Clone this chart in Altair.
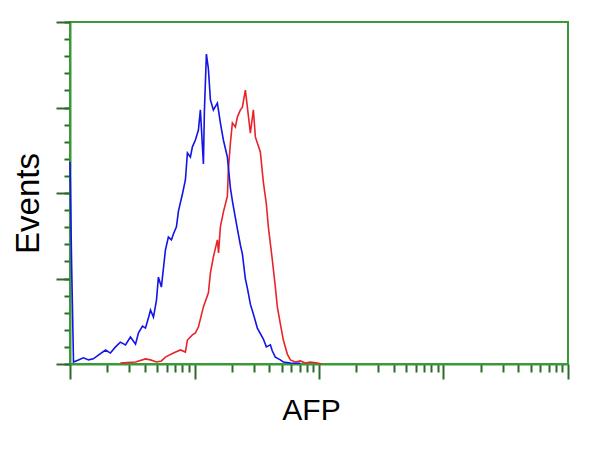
import altair as alt
import pandas as pd

# Fluorescence intensity (log axis) and event counts (% of max)
blue_x = [1.00, 1.03, 1.067, 1.17, 1.28, 1.41, 1.54, 1.69, 1.93, 2.11, 2.32, 2.54, 2.79, 3.06,
          3.36, 3.55, 3.82, 4.04, 4.27, 4.43, 4.68, 4.95, 5.13, 5.42, 5.84, 6.17, 6.53, 6.77,
          7.16, 7.43, 8.00, 8.45, 8.77, 9.27, 9.62, 10.17, 10.75, 11.15, 11.79, 12.01, 12.46,
          12.93, 13.42, 14.18, 15.27, 16.14, 17.06, 18.37, 19.42, 20.15, 21.30, 22.10, 23.36,
          24.24, 25.62, 26.59, 28.10, 29.70, 31.97, 35.73, 37.76, 40.67, 42.20, 44.60, 48.92,
          51.71, 58.85, 70.78]
blue_y = [59.1, 29.5, 0.6, 1.2, 1.8, 1.2, 1.5, 2.6, 4.1, 3.2, 5.0, 6.4, 5.6, 7.9,
          5.8, 9.1, 11.1, 10.5, 13.5, 15.8, 13.7, 18.7, 25.4, 22.5, 33.3, 37.1, 36.3, 38.0,
          40.1, 44.7, 49.7, 53.8, 61.7, 60.5, 63.5, 65.5, 68.4, 74.3, 58.5, 74.0, 90.6,
          86.3, 77.2, 74.3, 76.3, 70.5, 65.5, 60.5, 51.5, 47.7, 42.7, 39.5, 34.8,
          32.2, 24.9, 22.2, 17.5, 14.6, 10.5, 7.3, 5.0, 5.6, 3.8, 2.0, 1.2,
          0.6, 0.3, 0.2]

red_x = [2.54, 3.36, 4.04, 4.43, 4.95, 5.42, 5.84, 6.77, 7.71, 8.45, 8.77, 9.62, 10.17, 10.75,
         11.79, 12.93, 13.42, 14.18, 15.27, 15.60, 16.14, 17.06, 18.37, 18.70, 19.42, 20.15,
         21.30, 22.10, 23.36, 24.24, 25.62, 26.59, 28.10, 29.70, 30.82, 31.97, 33.80, 35.73,
         37.76, 39.19, 42.20, 44.60, 46.28, 48.92, 51.71, 55.67, 58.85, 64.54, 70.78, 77.62,
         85.16, 96.9, 105.0]
red_y = [0.3, 0.6, 1.5, 1.2, 0.6, 0.9, 2.0, 3.2, 4.1, 3.5, 7.0, 8.5, 9.1, 10.8,
         16.7, 20.8, 26.6, 31.3, 36.3, 32.5, 40.1, 44.4, 49.1, 56.7, 64.6, 70.5,
         69.3, 72.2, 74.3, 75.1, 80.1, 75.1, 67.5, 74.3, 66.4, 64.6, 62.0, 53.2,
         46.8, 40.1, 30.4, 22.5, 16.7, 11.7, 7.0, 2.9, 1.2, 0.6, 0.9, 0.3,
         0.6, 0.3, 0.0]

major_x = [1, 10, 100, 1000, 10000]
minor_x = [2, 3, 4, 5, 6, 7, 8, 9,
           20, 30, 40, 50, 60, 70, 80, 90,
           200, 300, 400, 500, 600, 700, 800, 900,
           2000, 3000, 4000, 5000, 6000, 7000, 8000, 9000]
major_y = [0, 25, 50, 75, 100]
minor_y = [0, 5, 10, 15, 20, 25, 30, 35, 40, 45, 50, 55, 60, 65, 70, 75, 80, 85, 90, 95, 100]

series_names = ["AFP", "Control"]
series_colors = ["#e8242a", "#1414e6"]

df = pd.concat([
    pd.DataFrame({"x": red_x, "y": red_y, "series": series_names[0]}),
    pd.DataFrame({"x": blue_x, "y": blue_y, "series": series_names[1]}),
], ignore_index=True)

GREEN = "#3a9a3a"
TICK = "#2a6a2a"
FONT = "Liberation Sans"

x_scale = alt.Scale(type="log", domain=[1, 10000])
y_scale = alt.Scale(domain=[0, 100])

lines = alt.Chart(df).mark_line(strokeWidth=1.6).encode(
    x=alt.X("x:Q", scale=x_scale, axis=alt.Axis(
        orient="bottom", values=major_x, labels=False, grid=False,
        tickSize=15, tickWidth=2, tickColor=TICK,
        domainColor=GREEN, domainWidth=2,
        title="AFP", titleFont=FONT, titleFontSize=30, titleFontWeight="normal",
        titleColor="#000000", titleX=241, titleY=55, titleAlign="center",
        titleBaseline="alphabetic")),
    y=alt.Y("y:Q", scale=y_scale, axis=alt.Axis(
        orient="left", values=major_y, labels=False, grid=False,
        tickSize=14, tickWidth=2, tickColor=TICK,
        domainColor=GREEN, domainWidth=2,
        title="Events", titleFont=FONT, titleFontSize=33, titleFontWeight="normal",
        titleColor="#000000", titleAngle=270, titleX=-32, titleY=181,
        titleAlign="center", titleBaseline="alphabetic")),
    color=alt.Color("series:N", scale=alt.Scale(domain=series_names, range=series_colors),
                    legend=None),
    detail="series:N",
)

minor = alt.Chart(df).mark_point(opacity=0).encode(
    x=alt.X("x:Q", scale=x_scale, axis=alt.Axis(
        orient="bottom", values=minor_x, labels=False, grid=False, domain=False,
        tickSize=8, tickWidth=2, tickColor=TICK, title="")),
    y=alt.Y("y:Q", scale=y_scale, axis=alt.Axis(
        orient="left", values=minor_y, labels=False, grid=False, domain=False,
        tickSize=6, tickWidth=2, tickColor=TICK, title="")),
)

chart = alt.layer(minor, lines).resolve_axis(
    x="independent", y="independent"
).properties(
    width=498, height=342,
    padding={"left": 62, "top": 14, "right": 20, "bottom": 70},
    autosize="none",
).configure_view(stroke=GREEN, strokeWidth=2)

chart.save("out.html", embed_options={"renderer": "svg", "actions": False})
